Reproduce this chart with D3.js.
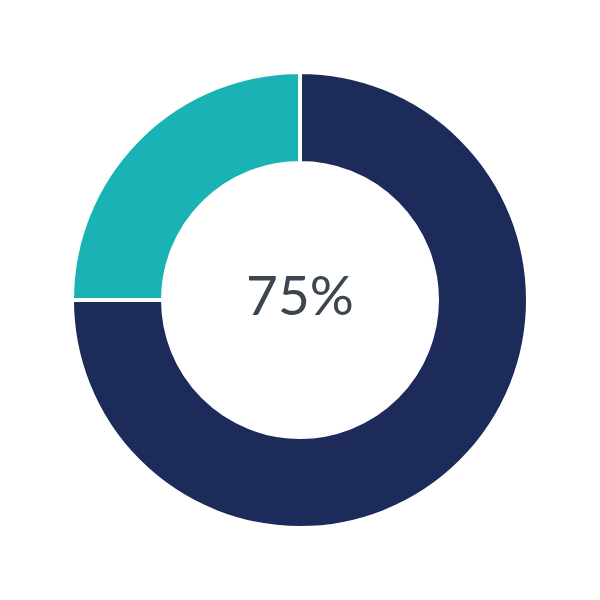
<!DOCTYPE html>
<html>
<head>
  <meta charset="utf-8">
  <script src="https://d3js.org/d3.v7.min.js"></script>
  <style>
    body { margin: 0; background: #fff; }
  </style>
</head>
<body>
  <div id="chart"></div>
  <script>
    // Datos del gráfico
    const labels = ["Completado", "Restante"];
    const values = [75, 25];
    const colors = ["#1c2b5a", "#1ab3b5"];
    const centerLabel = "75%";

    const width = 600, height = 600;
    const outerR = 228, innerR = 137;

    const svg = d3.select("#chart").append("svg")
      .attr("width", width)
      .attr("height", height)
      .append("g")
      .attr("transform", `translate(${width / 2}, ${height / 2})`);

    const pie = d3.pie().sort(null).value(d => d);
    const arc = d3.arc().innerRadius(innerR).outerRadius(outerR);

    svg.selectAll("path")
      .data(pie(values))
      .join("path")
      .attr("d", arc)
      .attr("fill", (d, i) => colors[i])
      .attr("stroke", "#fff")
      .attr("stroke-width", 4);

    // Texto central
    svg.append("text")
      .attr("text-anchor", "middle")
      .attr("y", 15)
      .style("font-family", "Lato, sans-serif")
      .style("font-size", "55px")
      .style("fill", "#3b4651")
      .text(centerLabel);
  </script>
</body>
</html>
